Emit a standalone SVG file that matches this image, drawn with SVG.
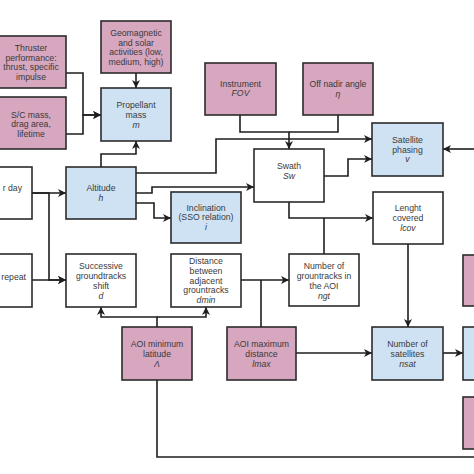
<svg xmlns="http://www.w3.org/2000/svg" width="474" height="474" viewBox="0 0 474 474">
<style>
.n rect{stroke:#2b2b2b;stroke-width:1.6}
.p rect{fill:#d6a7bf}
.b rect{fill:#cfe2f3}
.w rect{fill:#ffffff}
text{font-family:"Liberation Sans",Arial,sans-serif;font-size:8.7px;fill:#3a3a3a;text-anchor:middle}
.i{font-style:italic}
#edges path{fill:none;stroke:#1e1e1e;stroke-width:1.6}
#edges path.a{marker-end:url(#ah)}
</style>
<defs>
<marker id="ah" markerUnits="userSpaceOnUse" markerWidth="9" markerHeight="9" refX="8" refY="4" orient="auto" viewBox="0 0 9 8">
<path d="M0,0 L8,4 L0,8 L2.2,4 Z" fill="#1e1e1e"/>
</marker>
</defs>
<rect width="474" height="474" fill="#ffffff"/>
<g id="edges">
<path class="a" d="M66,73 H83 V115 H101"/>
<path class="a" d="M66,134 H83 V115 H101"/>
<path class="a" d="M136,73 V88"/>
<path class="a" d="M101,167 V154 H136 V141"/>
<path class="a" d="M136,173 H216 V139 H372"/>
<path class="a" d="M136,193 H152 V187 H254"/>
<path class="a" d="M136,203 H154 V218 H171"/>
<path class="a" d="M32,193 H66"/>
<path class="a" d="M32,193 H49 V280 H66"/>
<path class="a" d="M32,280 H66"/>
<path class="a" d="M157,327 V317 H101 V307"/>
<path class="a" d="M157,317 H206 V307"/>
<path class="a" d="M241,280 H289"/>
<path d="M261,327 V280"/>
<path class="a" d="M240,115 V132 H289 V149"/>
<path d="M338,115 V132 H289"/>
<path class="a" d="M324,176 H348 V159 H372"/>
<path class="a" d="M289,202 V218 H373"/>
<path d="M324,254 V218"/>
<path class="a" d="M408,244 V327"/>
<path class="a" d="M296,353 H372"/>
<path class="a" d="M443,353 H463"/>
<path class="a" d="M474,149 H443"/>
<path d="M157,380 V457 H474"/>
</g>
<g id="thruster" class="n p"><rect x="-4" y="36" width="70" height="52"/>
<text x="31" y="51">Thruster</text><text x="31" y="61">performance:</text><text x="31" y="70">thrust, specific</text><text x="31" y="80">impulse</text></g>
<g id="scmass" class="n p"><rect x="-4" y="97" width="70" height="52"/>
<text x="31" y="118">S/C mass,</text><text x="31" y="127">drag area,</text><text x="31" y="137">lifetime</text></g>
<g id="geomag" class="n p"><rect x="101" y="21" width="70" height="52"/>
<text x="136" y="36">Geomagnetic</text><text x="136" y="46">and solar</text><text x="136" y="55">activities (low,</text><text x="136" y="65">medium, high)</text></g>
<g id="propellant" class="n b"><rect x="101" y="88" width="70" height="53"/>
<text x="136" y="108">Propellant</text><text x="136" y="118">mass</text><text x="136" y="128" class="i">m</text></g>
<g id="orbits" class="n w"><rect x="-38" y="167" width="70" height="52"/>
<text x="22" y="191" style="text-anchor:end">r day</text></g>
<g id="altitude" class="n b"><rect x="66" y="167" width="70" height="52"/>
<text x="101" y="191">Altitude</text><text x="101" y="201" class="i">h</text></g>
<g id="repeat" class="n w"><rect x="-38" y="254" width="70" height="53"/>
<text x="26" y="280" style="text-anchor:end">repeat</text></g>
<g id="successive" class="n w"><rect x="66" y="254" width="70" height="53"/>
<text x="101" y="269">Successive</text><text x="101" y="279">groundtracks</text><text x="101" y="289">shift</text><text x="101" y="299" class="i">d</text></g>
<g id="inclination" class="n b"><rect x="171" y="192" width="70" height="51"/>
<text x="206" y="211">Inclination</text><text x="206" y="220">(SSO relation)</text><text x="206" y="230" class="i">i</text></g>
<g id="distance" class="n w"><rect x="171" y="254" width="70" height="53"/>
<text x="206" y="264">Distance</text><text x="206" y="274">between</text><text x="206" y="284">adjacent</text><text x="206" y="293">grountracks</text><text x="206" y="303" class="i">dmin</text></g>
<g id="instrument" class="n p"><rect x="205" y="63" width="71" height="52"/>
<text x="240.5" y="87">Instrument</text><text x="240.5" y="96" class="i">FOV</text></g>
<g id="offnadir" class="n p"><rect x="303" y="63" width="70" height="52"/>
<text x="338" y="87">Off nadir angle</text><text x="338" y="97" class="i">η</text></g>
<g id="swath" class="n w"><rect x="254" y="149" width="70" height="53"/>
<text x="289" y="169">Swath</text><text x="289" y="179" class="i">Sw</text></g>
<g id="phasing" class="n b"><rect x="372" y="123" width="71" height="53"/>
<text x="407.5" y="143">Satellite</text><text x="407.5" y="153">phasing</text><text x="407.5" y="162" class="i">v</text></g>
<g id="lenght" class="n w"><rect x="373" y="192" width="70" height="52"/>
<text x="408" y="211">Lenght</text><text x="408" y="221">covered</text><text x="408" y="231" class="i">lcov</text></g>
<g id="ngt" class="n w"><rect x="289" y="254" width="70" height="52"/>
<text x="324" y="269">Number of</text><text x="324" y="279">grountracks in</text><text x="324" y="289">the AOI</text><text x="324" y="299" class="i">ngt</text></g>
<g id="aoimin" class="n p"><rect x="122" y="327" width="70" height="53"/>
<text x="157" y="347">AOI minimum</text><text x="157" y="357">latitude</text><text x="157" y="367" class="i">Λ</text></g>
<g id="aoimax" class="n p"><rect x="227" y="327" width="69" height="53"/>
<text x="261.5" y="347">AOI maximum</text><text x="261.5" y="357">distance</text><text x="261.5" y="367" class="i">lmax</text></g>
<g id="nsat" class="n b"><rect x="372" y="327" width="71" height="53"/>
<text x="407.5" y="347">Number of</text><text x="407.5" y="357">satellites</text><text x="407.5" y="367" class="i">nsat</text></g>
<g id="right1" class="n p"><rect x="463" y="255" width="20" height="51"/></g>
<g id="right2" class="n b"><rect x="463" y="327" width="20" height="53"/></g>
<g id="right3" class="n p"><rect x="463" y="397" width="20" height="52"/></g>
</svg>
